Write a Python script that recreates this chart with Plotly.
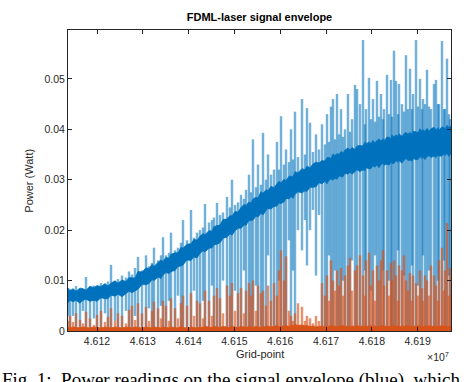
import plotly.graph_objects as go

# ---------------- data (x in units of 1e7 grid points) ----------------
x_tick_vals = [4.612, 4.613, 4.614, 4.615, 4.616, 4.617, 4.618, 4.619]
x_tick_labels = ["4.612", "4.613", "4.614", "4.615", "4.616", "4.617", "4.618", "4.619"]
y_tick_vals = [0, 0.01, 0.02, 0.03, 0.04, 0.05]
y_tick_labels = ["0", "0.01", "0.02", "0.03", "0.04", "0.05"]

# sample positions (dips / peaks of the envelope)
event_x = [
    4.611367,
    4.611411, 4.611476, 4.611542, 4.611629, 4.611694, 4.611760, 4.611847, 4.611934, 4.612000,
    4.612087, 4.612175, 4.612240, 4.612306, 4.612393, 4.612458, 4.612546, 4.612633, 4.612699,
    4.612764, 4.612830, 4.612895, 4.612982, 4.613070, 4.613135, 4.613201, 4.613244, 4.613332,
    4.613397, 4.613441,
    4.613506, 4.613572, 4.613615, 4.613703, 4.613768, 4.613834, 4.613877, 4.613965, 4.614052,
    4.614118, 4.614183, 4.614248, 4.614314, 4.614358, 4.614445, 4.614510, 4.614554, 4.614620,
    4.614685, 4.614751, 4.614838, 4.614903, 4.614947, 4.615013, 4.615078, 4.615144, 4.615209,
    4.615253, 4.615318, 4.615362, 4.615405, 4.615471, 4.615515, 4.615580,
    4.615624, 4.615689, 4.615733, 4.615798, 4.615864, 4.615929, 4.615973, 4.616017, 4.616082,
    4.616126, 4.616191, 4.616235, 4.616279, 4.616322, 4.616388, 4.616475, 4.616541, 4.616584,
    4.616650, 4.616715, 4.616781, 4.616846, 4.616912, 4.616977, 4.617021, 4.617065, 4.617108,
    4.617152, 4.617196, 4.617239, 4.617283, 4.617327, 4.617370, 4.617414, 4.617479, 4.617523,
    4.617567, 4.617632, 4.617676,
    4.617741, 4.617807, 4.617850, 4.617872, 4.617938, 4.617981, 4.618025, 4.618069, 4.618112,
    4.618156, 4.618200, 4.618243, 4.618265, 4.618331, 4.618374, 4.618418, 4.618440, 4.618484,
    4.618527, 4.618571, 4.618593, 4.618658, 4.618702, 4.618745, 4.618789, 4.618833, 4.618876,
    4.618898, 4.618964, 4.619007, 4.619051, 4.619095, 4.619117, 4.619160, 4.619204, 4.619248,
    4.619291, 4.619357, 4.619400, 4.619444, 4.619466, 4.619531, 4.619575, 4.619597, 4.619641,
    4.619684, 4.619706,
    4.619750]

# upper / lower edge of the dense blue band
band_hi = [
    0.0085,
    0.0080, 0.0084, 0.0079, 0.0085, 0.0084, 0.0081, 0.0089, 0.0086, 0.0090,
    0.0088, 0.0094, 0.0089, 0.0095, 0.0099, 0.0095, 0.0101, 0.0098, 0.0106,
    0.0106, 0.0105, 0.0118, 0.0117, 0.0125, 0.0124, 0.0132, 0.0128, 0.0136,
    0.0141, 0.0138,
    0.0146, 0.0144, 0.0152, 0.0155, 0.0155, 0.0166, 0.0164, 0.0172, 0.0173,
    0.0182, 0.0180, 0.0188, 0.0193, 0.0191, 0.0199, 0.0198, 0.0207, 0.0209,
    0.0210, 0.0221, 0.0222, 0.0229, 0.0228, 0.0237, 0.0236, 0.0245, 0.0251,
    0.0249, 0.0256, 0.0254, 0.0262, 0.0265, 0.0264, 0.0276,
    0.0273, 0.0280, 0.0278, 0.0287, 0.0284, 0.0292, 0.0297, 0.0294, 0.0301,
    0.0298, 0.0307, 0.0307, 0.0306, 0.0316, 0.0314, 0.0322, 0.0320, 0.0327,
    0.0324, 0.0331, 0.0335, 0.0333, 0.0338, 0.0337, 0.0344, 0.0344, 0.0342,
    0.0351, 0.0348, 0.0352, 0.0350, 0.0356, 0.0353, 0.0359, 0.0363, 0.0359,
    0.0364, 0.0360, 0.0367,
    0.0368, 0.0367, 0.0375, 0.0371, 0.0375, 0.0372, 0.0378, 0.0373, 0.0378,
    0.0381, 0.0377, 0.0381, 0.0377, 0.0385, 0.0384, 0.0382, 0.0389, 0.0385,
    0.0389, 0.0386, 0.0391, 0.0386, 0.0391, 0.0394, 0.0390, 0.0394, 0.0390,
    0.0396, 0.0395, 0.0393, 0.0401, 0.0396, 0.0399, 0.0396, 0.0402, 0.0396,
    0.0401, 0.0404, 0.0399, 0.0403, 0.0398, 0.0405, 0.0403, 0.0400, 0.0408,
    0.0403, 0.0406,
    0.0404]
band_lo = [
    0.0056,
    0.0061, 0.0058, 0.0061, 0.0055, 0.0061, 0.0063, 0.0059, 0.0061, 0.0059,
    0.0066, 0.0064, 0.0064, 0.0071, 0.0069, 0.0073, 0.0068, 0.0075, 0.0079,
    0.0076, 0.0080, 0.0083, 0.0092, 0.0092, 0.0094, 0.0102, 0.0100, 0.0107,
    0.0104, 0.0111,
    0.0116, 0.0114, 0.0118, 0.0120, 0.0128, 0.0129, 0.0131, 0.0141, 0.0140,
    0.0147, 0.0145, 0.0154, 0.0159, 0.0157, 0.0164, 0.0165, 0.0171, 0.0172,
    0.0175, 0.0184, 0.0186, 0.0193, 0.0190, 0.0199, 0.0204, 0.0204, 0.0210,
    0.0210, 0.0219, 0.0219, 0.0220, 0.0228, 0.0226, 0.0234,
    0.0230, 0.0239, 0.0243, 0.0242, 0.0247, 0.0248, 0.0254, 0.0253, 0.0256,
    0.0263, 0.0262, 0.0267, 0.0263, 0.0271, 0.0276, 0.0274, 0.0278, 0.0277,
    0.0285, 0.0285, 0.0286, 0.0294, 0.0292, 0.0297, 0.0292, 0.0299, 0.0302,
    0.0299, 0.0303, 0.0301, 0.0308, 0.0306, 0.0306, 0.0313, 0.0311, 0.0315,
    0.0311, 0.0317, 0.0320,
    0.0316, 0.0320, 0.0318, 0.0324, 0.0322, 0.0322, 0.0328, 0.0325, 0.0329,
    0.0324, 0.0330, 0.0333, 0.0329, 0.0331, 0.0329, 0.0335, 0.0332, 0.0332,
    0.0338, 0.0335, 0.0338, 0.0333, 0.0339, 0.0342, 0.0338, 0.0339, 0.0337,
    0.0342, 0.0340, 0.0340, 0.0346, 0.0342, 0.0345, 0.0340, 0.0346, 0.0348,
    0.0344, 0.0347, 0.0344, 0.0350, 0.0347, 0.0347, 0.0352, 0.0348, 0.0352,
    0.0346, 0.0351,
    0.0350]

# dips and peaks of the blue envelope, peaks of the orange trace
blue_low = [
    0.0030,
    0.0004, 0.0030, 0.0003, 0.0006, 0.0040, 0.0003, 0.0005, 0.0025, 0.0003,
    0.0004, 0.0035, 0.0003, 0.0004, 0.0020, 0.0003, 0.0005, 0.0040, 0.0003,
    0.0004, 0.0030, 0.0003, 0.0005, 0.0003, 0.0045, 0.0003, 0.0005, 0.0003,
    0.0050, 0.0003,
    0.0004, 0.0060, 0.0003, 0.0004, 0.0070, 0.0003, 0.0005, 0.0003, 0.0004,
    0.0080, 0.0003, 0.0005, 0.0060, 0.0003, 0.0004, 0.0090, 0.0003, 0.0004,
    0.0003, 0.0100, 0.0003, 0.0005, 0.0003, 0.0080, 0.0003, 0.0004, 0.0120,
    0.0003, 0.0004, 0.0003, 0.0005, 0.0090, 0.0003, 0.0004,
    0.0003, 0.0005, 0.0150, 0.0003, 0.0004, 0.0003, 0.0100, 0.0003, 0.0005,
    0.0003, 0.0180, 0.0004, 0.0120, 0.0003, 0.0200, 0.0160, 0.0220, 0.0130,
    0.0200, 0.0240, 0.0110, 0.0230, 0.0003, 0.0005, 0.0003, 0.0150, 0.0003,
    0.0004, 0.0120, 0.0003, 0.0005, 0.0003, 0.0100, 0.0003, 0.0004, 0.0003,
    0.0140, 0.0003, 0.0005,
    0.0003, 0.0004, 0.0120, 0.0003, 0.0005, 0.0080, 0.0003, 0.0150, 0.0003,
    0.0004, 0.0003, 0.0120, 0.0005, 0.0003, 0.0100, 0.0003, 0.0004, 0.0003,
    0.0006, 0.0160, 0.0003, 0.0004, 0.0110, 0.0003, 0.0005, 0.0003, 0.0130,
    0.0003, 0.0004, 0.0090, 0.0003, 0.0005, 0.0150, 0.0003, 0.0004, 0.0120,
    0.0003, 0.0005, 0.0003, 0.0100, 0.0003, 0.0004, 0.0140, 0.0003, 0.0005,
    0.0110, 0.0003,
    0.0040]
blue_peak = [
    0.0085,
    0.0082, 0.0080, 0.0089, 0.0083, 0.0081, 0.0107, 0.0085, 0.0090, 0.0088,
    0.0095, 0.0092, 0.0098, 0.0131, 0.0100, 0.0103, 0.0110, 0.0106, 0.0118,
    0.0112, 0.0125, 0.0147, 0.0120, 0.0150, 0.0128, 0.0135, 0.0165, 0.0140,
    0.0150, 0.0186,
    0.0150, 0.0155, 0.0195, 0.0160, 0.0165, 0.0175, 0.0220, 0.0180, 0.0240,
    0.0185, 0.0195, 0.0200, 0.0205, 0.0252, 0.0215, 0.0220, 0.0225, 0.0254,
    0.0230, 0.0235, 0.0266, 0.0245, 0.0300, 0.0250, 0.0255, 0.0270, 0.0262,
    0.0280, 0.0310, 0.0275, 0.0380, 0.0285, 0.0330, 0.0290,
    0.0393, 0.0300, 0.0350, 0.0310, 0.0320, 0.0375, 0.0320, 0.0426, 0.0330,
    0.0360, 0.0335, 0.0400, 0.0340, 0.0435, 0.0345, 0.0460, 0.0350, 0.0442,
    0.0413, 0.0355, 0.0390, 0.0360, 0.0410, 0.0370, 0.0430, 0.0375, 0.0445,
    0.0460, 0.0380, 0.0470, 0.0390, 0.0440, 0.0385, 0.0400, 0.0470, 0.0395,
    0.0420, 0.0488, 0.0480,
    0.0450, 0.0577, 0.0410, 0.0440, 0.0502, 0.0420, 0.0460, 0.0415, 0.0496,
    0.0425, 0.0470, 0.0420, 0.0440, 0.0508, 0.0430, 0.0498, 0.0425, 0.0556,
    0.0496, 0.0430, 0.0490, 0.0450, 0.0435, 0.0547, 0.0440, 0.0520, 0.0440,
    0.0470, 0.0577, 0.0445, 0.0500, 0.0440, 0.0460, 0.0450, 0.0518, 0.0445,
    0.0440, 0.0490, 0.0498, 0.0450, 0.0450, 0.0575, 0.0440, 0.0440, 0.0540,
    0.0430, 0.0420,
    0.0406]
orange_peak = [
    0.0020,
    0.0030, 0.0018, 0.0035, 0.0022, 0.0015, 0.0038, 0.0025, 0.0012, 0.0032,
    0.0040, 0.0018, 0.0028, 0.0045, 0.0020, 0.0035, 0.0030, 0.0015, 0.0042,
    0.0050, 0.0022, 0.0055, 0.0035, 0.0048, 0.0020, 0.0040, 0.0058, 0.0045,
    0.0025, 0.0060,
    0.0050, 0.0020, 0.0065, 0.0045, 0.0025, 0.0055, 0.0070, 0.0050, 0.0075,
    0.0030, 0.0060, 0.0055, 0.0025, 0.0080, 0.0060, 0.0030, 0.0070, 0.0085,
    0.0065, 0.0035, 0.0090, 0.0070, 0.0095, 0.0040, 0.0075, 0.0085, 0.0035,
    0.0080, 0.0095, 0.0070, 0.0100, 0.0040, 0.0090, 0.0075,
    0.0080, 0.0050, 0.0090, 0.0060, 0.0095, 0.0070, 0.0120, 0.0160, 0.0100,
    0.0148, 0.0040, 0.0030, 0.0020, 0.0035, 0.0055, 0.0048, 0.0020, 0.0030,
    0.0025, 0.0015, 0.0030, 0.0020, 0.0095, 0.0070, 0.0110, 0.0060, 0.0140,
    0.0100, 0.0080, 0.0120, 0.0090, 0.0125, 0.0070, 0.0110, 0.0130, 0.0145,
    0.0080, 0.0120, 0.0130,
    0.0150, 0.0110, 0.0070, 0.0140, 0.0155, 0.0090, 0.0120, 0.0060, 0.0130,
    0.0100, 0.0140, 0.0160, 0.0090, 0.0120, 0.0070, 0.0135, 0.0100, 0.0140,
    0.0110, 0.0060, 0.0130, 0.0120, 0.0150, 0.0100, 0.0080, 0.0115, 0.0060,
    0.0110, 0.0095, 0.0070, 0.0120, 0.0085, 0.0060, 0.0110, 0.0100, 0.0070,
    0.0130, 0.0110, 0.0090, 0.0060, 0.0140, 0.0165, 0.0080, 0.0120, 0.0214,
    0.0070, 0.0125,
    0.0080]
# thick orange floor
orange_floor = [
    0.0007,
    0.0006, 0.0008, 0.0007, 0.0006, 0.0008, 0.0007, 0.0006, 0.0008, 0.0007,
    0.0006, 0.0008, 0.0007, 0.0006, 0.0008, 0.0007, 0.0006, 0.0008, 0.0007,
    0.0006, 0.0008, 0.0007, 0.0006, 0.0008, 0.0007, 0.0006, 0.0008, 0.0007,
    0.0006, 0.0008,
    0.0007, 0.0006, 0.0008, 0.0007, 0.0006, 0.0009, 0.0007, 0.0006, 0.0008,
    0.0007, 0.0006, 0.0008, 0.0007, 0.0009, 0.0008, 0.0007, 0.0009, 0.0008,
    0.0007, 0.0009, 0.0008, 0.0007, 0.0009, 0.0008, 0.0007, 0.0009, 0.0008,
    0.0007, 0.0009, 0.0008, 0.0007, 0.0009, 0.0008, 0.0007,
    0.0009, 0.0008, 0.0010, 0.0008, 0.0009, 0.0011, 0.0008, 0.0010, 0.0009,
    0.0011, 0.0009, 0.0012, 0.0010, 0.0013, 0.0011, 0.0012, 0.0010, 0.0011,
    0.0009, 0.0010, 0.0008, 0.0009, 0.0010, 0.0008, 0.0010, 0.0009, 0.0011,
    0.0009, 0.0010, 0.0008, 0.0010, 0.0009, 0.0011, 0.0009, 0.0010, 0.0008,
    0.0010, 0.0009, 0.0011,
    0.0009, 0.0010, 0.0008, 0.0010, 0.0009, 0.0011, 0.0009, 0.0010, 0.0008,
    0.0010, 0.0009, 0.0011, 0.0009, 0.0010, 0.0008, 0.0010, 0.0009, 0.0011,
    0.0009, 0.0010, 0.0008, 0.0010, 0.0009, 0.0011, 0.0009, 0.0010, 0.0008,
    0.0010, 0.0009, 0.0011, 0.0009, 0.0010, 0.0008, 0.0010, 0.0009, 0.0011,
    0.0009, 0.0010, 0.0008, 0.0010, 0.0009, 0.0011, 0.0009, 0.0010, 0.0008,
    0.0010, 0.0009,
    0.0010]

# ---------------- figure ----------------
BLUE = "#0072BD"
ORANGE = "#D95319"
AX = "#262626"
FONT = "Liberation Sans, Arial, Helvetica, sans-serif"

fig = go.Figure()


def polygon(xs, hi, lo):
    return list(xs) + list(xs)[::-1], list(hi) + list(lo)[::-1]


def segments(xs, lo, hi):
    sx, sy = [], []
    for x, a, b in zip(xs, lo, hi):
        sx += [x, x, None]
        sy += [a, b, None]
    return sx, sy


zeros = [0 for _ in event_x]

# blue spikes: soft halo + crisp line
sx, sy = segments(event_x, blue_low, blue_peak)
fig.add_trace(go.Scatter(x=sx, y=sy, mode="lines",
                         line=dict(color="rgba(0,114,189,0.25)", width=3),
                         hoverinfo="skip"))
fig.add_trace(go.Scatter(x=sx, y=sy, mode="lines",
                         line=dict(color="rgba(0,114,189,0.8)", width=1),
                         hoverinfo="skip"))
# dense band
bx, by = polygon(event_x, band_hi, band_lo)
fig.add_trace(go.Scatter(x=bx, y=by, fill="toself", fillcolor=BLUE,
                         line=dict(width=0.8, color=BLUE), mode="lines", hoverinfo="skip"))
# orange spikes: soft halo + crisp line
ox, oy = segments(event_x, zeros, orange_peak)
fig.add_trace(go.Scatter(x=ox, y=oy, mode="lines",
                         line=dict(color="rgba(217,83,25,0.3)", width=3),
                         hoverinfo="skip"))
fig.add_trace(go.Scatter(x=ox, y=oy, mode="lines",
                         line=dict(color="rgba(217,83,25,0.95)", width=1),
                         hoverinfo="skip"))
# orange floor
fx, fy = polygon(event_x, orange_floor, zeros)
fig.add_trace(go.Scatter(x=fx, y=fy, fill="toself", fillcolor=ORANGE,
                         line=dict(width=0.8, color=ORANGE), mode="lines", hoverinfo="skip"))

axis_common = dict(showline=True, linecolor=AX, linewidth=1, mirror="ticks",
                   ticks="inside", ticklen=4, tickcolor=AX, showgrid=False, zeroline=False,
                   automargin=False,
                   tickfont=dict(family=FONT, size=10.5, color=AX))

fig.update_layout(
    width=474, height=382,
    margin=dict(l=68, r=23, t=30, b=51, autoexpand=False),
    paper_bgcolor="white", plot_bgcolor="white",
    showlegend=False,
    title=dict(text="<b>FDML-laser signal envelope</b>", x=0.5, xref="paper",
               y=1 - 17 / 382, yanchor="middle",
               font=dict(family=FONT, size=11, color="black")),
    xaxis=dict(range=[4.611367, 4.619728], tickvals=x_tick_vals, ticktext=x_tick_labels,
               **axis_common),
    yaxis=dict(range=[0, 0.0597], tickvals=y_tick_vals, ticktext=y_tick_labels,
               **axis_common),
)

fig.add_annotation(text="Grid-point", xref="paper", yref="paper", x=0.5, y=-0.0764,
                   xanchor="center", yanchor="middle", showarrow=False,
                   font=dict(family=FONT, size=11, color=AX))
fig.add_annotation(text="Power (Watt)", xref="paper", yref="paper", x=-0.104, y=0.5,
                   xanchor="center", yanchor="middle", textangle=-90, showarrow=False,
                   font=dict(family=FONT, size=11, color=AX))
fig.add_annotation(text="\u00d710<sup>7</sup>", xref="paper", yref="paper", x=1.0, y=-0.085,
                   xanchor="right", yanchor="middle", showarrow=False,
                   font=dict(family=FONT, size=10.5, color=AX))
fig.add_annotation(text="Fig. 1:  Power readings on the signal envelope (blue), which",
                   xref="paper", yref="paper", x=-68 / 383, y=-0.118,
                   xanchor="left", yanchor="top", showarrow=False,
                   font=dict(family="Liberation Serif, Times New Roman, serif", size=19,
                             color="black"))

fig.write_html("out.html", config={"displayModeBar": False},
               post_script="document.body.style.margin='0';document.body.style.overflow='hidden';")
